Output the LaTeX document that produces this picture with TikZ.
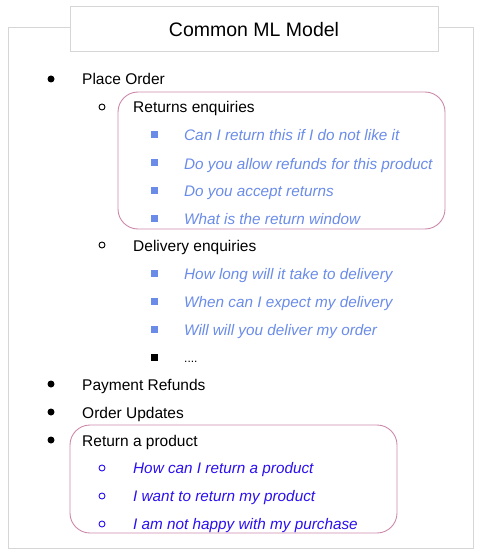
\documentclass[tikz,border=0pt]{standalone}
\usepackage{fontspec}
\setmainfont{Liberation Sans}
\definecolor{framegray}{HTML}{D6D6D6}
\definecolor{lightq}{HTML}{6A8CE8}
\definecolor{darkq}{HTML}{2A10EE}
\definecolor{groupline}{HTML}{CC88AA}
\begin{document}
\begin{tikzpicture}[x=1pt, y=-1pt,
    item/.style={anchor=base west, inner sep=0pt, font=\fontsize{15.5}{18}\selectfont},
    lightitem/.style={item, text=lightq, font=\fontsize{15.3}{18}\selectfont\itshape},
    darkitem/.style={item, text=darkq, font=\fontsize{15.3}{18}\selectfont\itshape},
    dot/.style={circle, fill=black, inner sep=0pt, minimum size=7pt},
    ring/.style={circle, draw=black, line width=0.9pt, inner sep=0pt, minimum size=6pt},
    box/.style={rectangle, fill=lightq, inner sep=0pt, minimum size=7pt},
    group/.style={draw=groupline, line width=0.9pt, rounded corners=20pt}]
    \useasboundingbox (0, 0) rectangle (488, 556);
    % outer frame and title
    \draw[framegray, line width=1pt] (8, 28) rectangle (473, 548);
    \draw[framegray, line width=1pt, fill=white] (70, 7) rectangle (438, 52);
    \node (title) at (254, 30) {\fontsize{19.5}{22}\selectfont Common ML Model};
    % groups
    \draw[group] (118, 92) rectangle (445, 229);
    \draw[group] (70, 425) rectangle (397, 533);
    % top level
    \node[dot] (b1) at (51, 79) {};
    \node[item] (l1) at (82, 85) {Place Order};
    \node[ring] (c1) at (102, 107) {};
    \node[item] (l11) at (133, 113) {Returns enquiries};
    \node[box] (s1) at (154, 135) {};
    \node[lightitem] (q1) at (184, 141) {Can I return this if I do not like it};
    \node[box] (s2) at (154, 163) {};
    \node[lightitem] (q2) at (184, 169) {Do you allow refunds for this product};
    \node[box] (s3) at (154, 190) {};
    \node[lightitem] (q3) at (184, 196) {Do you accept returns};
    \node[box] (s4) at (154, 218) {};
    \node[lightitem] (q4) at (184, 224) {What is the return window};
    \node[ring] (c2) at (102, 245) {};
    \node[item] (l12) at (133, 251) {Delivery enquiries};
    \node[box] (s5) at (154, 273) {};
    \node[lightitem] (q5) at (184, 279) {How long will it take to delivery};
    \node[box] (s6) at (154, 301) {};
    \node[lightitem] (q6) at (184, 307) {When can I expect my delivery};
    \node[box] (s7) at (154, 329) {};
    \node[lightitem] (q7) at (184, 335) {Will will you deliver my order};
    \node[box, fill=black] (s8) at (154, 357) {};
    \node[item] (q8) at (184, 362) {\fontsize{12}{14}\selectfont ....};
    \node[dot] (b2) at (51, 384) {};
    \node[item] (l2) at (82, 390) {Payment Refunds};
    \node[dot] (b3) at (51, 412) {};
    \node[item] (l3) at (82, 418) {Order Updates};
    \node[dot] (b4) at (51, 440) {};
    \node[item] (l4) at (82, 446) {Return a product};
    \node[ring, draw=darkq] (c3) at (102, 468) {};
    \node[darkitem] (r1) at (133, 473) {How can I return a product};
    \node[ring, draw=darkq] (c4) at (102, 496) {};
    \node[darkitem] (r2) at (133, 501) {I want to return my product};
    \node[ring, draw=darkq] (c5) at (102, 524) {};
    \node[darkitem] (r3) at (133, 529) {I am not happy with my purchase};
\end{tikzpicture}
\end{document}
